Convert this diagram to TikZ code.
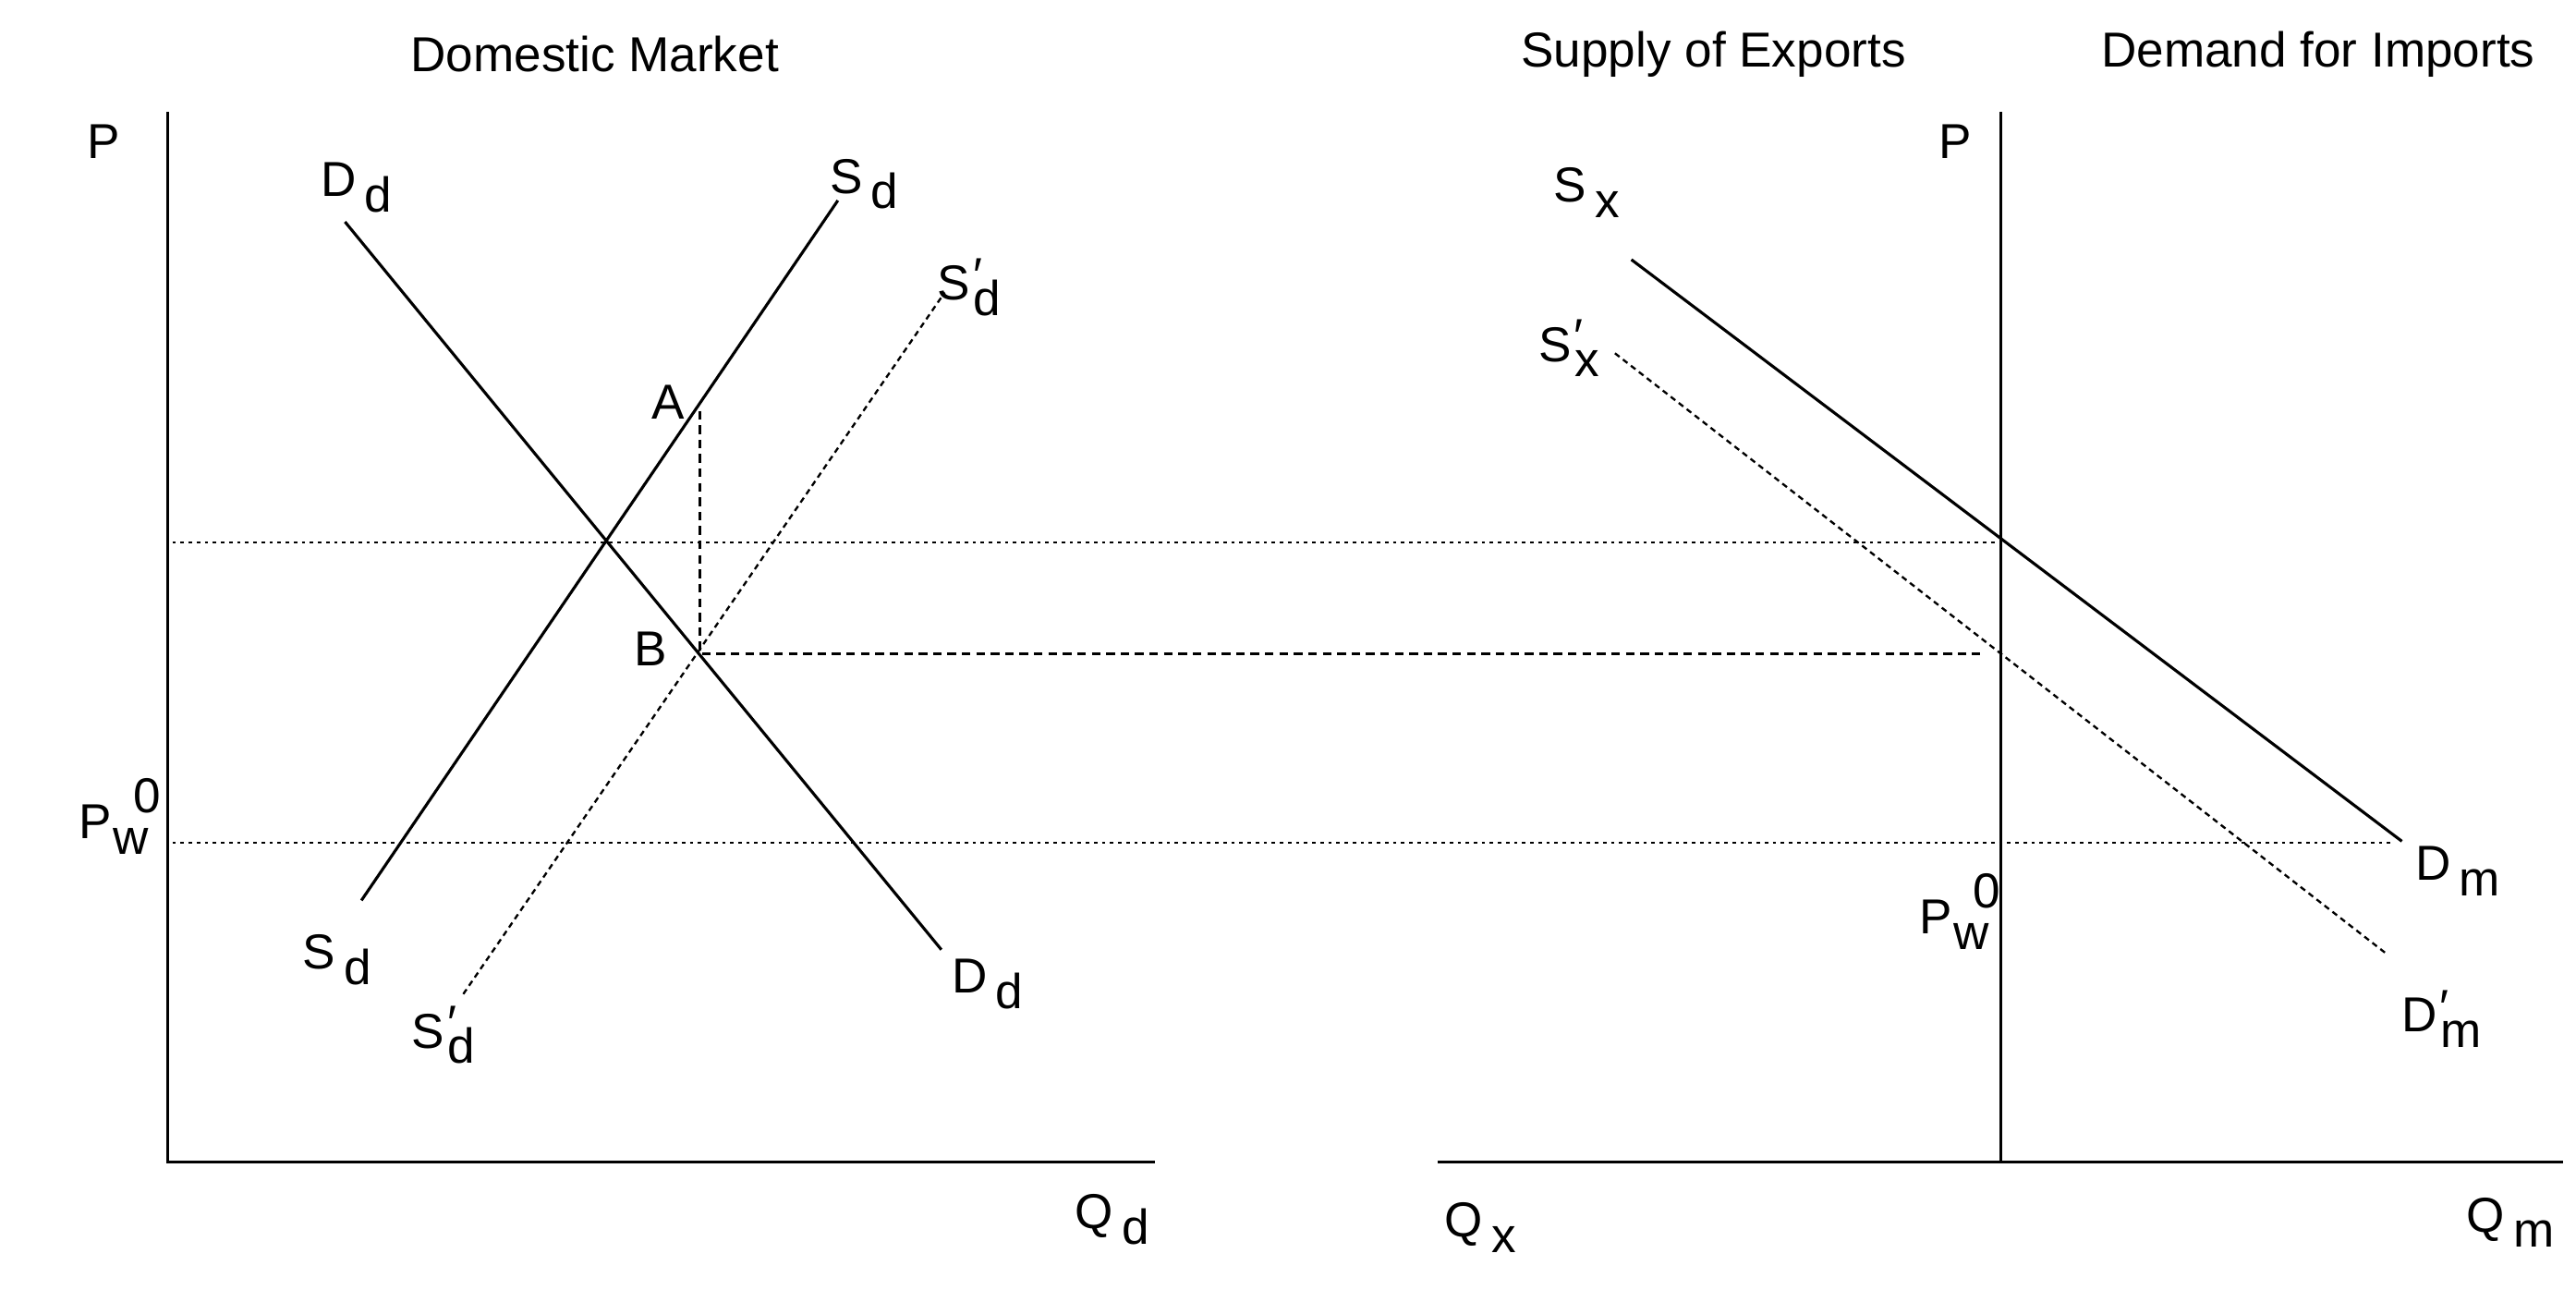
\documentclass[tikz,border=0pt]{standalone}
\usepackage{fontspec}
\setmainfont{Liberation Sans}
\newcommand{\lo}[1]{\raisebox{-0.6ex}{#1}}
\newcommand{\pw}{P\kern0.5pt\raisebox{-0.6ex}{w}\kern-5.5pt\raisebox{1.0ex}{0}}
\begin{document}
\begin{tikzpicture}[x=0.02cm,y=-0.02cm,
  lab/.style={font=\fontsize{17}{20}\selectfont,inner sep=0pt},
  curve/.style={line width=1pt},
  dotl/.style={line width=0.7pt,dash pattern=on 1.2pt off 1.6pt},
  dashd/.style={line width=0.75pt,dash pattern=on 2pt off 1.5pt},
  dashl/.style={line width=1pt,dash pattern=on 3pt off 2pt}]
\useasboundingbox (0,0) rectangle (1568,785);
% axes
\coordinate (lt) at (102,68); \coordinate (lo) at (102,707); \coordinate (lr) at (703,707);
\draw[curve] (lt) -- (lo) -- (lr);
\coordinate (rt) at (1218,68); \coordinate (rb) at (1218,707);
\coordinate (rl) at (875,707); \coordinate (rr) at (1560,707);
\draw[curve] (rt) -- (rb); \draw[curve] (rl) -- (rr);
% curves
\coordinate (dd1) at (210,135); \coordinate (dd2) at (573,578);
\draw[curve] (dd1) -- (dd2);
\coordinate (sd1) at (220,548); \coordinate (sd2) at (510,122);
\draw[curve] (sd1) -- (sd2);
\coordinate (spd1) at (282,605); \coordinate (spd2) at (575,178);
\draw[dashd] (spd1) -- (spd2);
\coordinate (sx1) at (993,158); \coordinate (sx2) at (1462,512);
\draw[curve] (sx1) -- (sx2);
\coordinate (spx1) at (983,215); \coordinate (spx2) at (1452,580);
\draw[dashd] (spx1) -- (spx2);
% guides
\coordinate (A) at (426,250); \coordinate (B) at (426,398); \coordinate (Br) at (1205,398);
\draw[dashl] (A) -- (B) -- (Br);
\coordinate (h1a) at (105,330); \coordinate (h1b) at (1215,330);
\draw[dotl] (h1a) -- (h1b);
\coordinate (h2a) at (105,513); \coordinate (h2b) at (1455,513);
\draw[dotl] (h2a) -- (h2b);
% labels
\node[lab] (t1) at (362,33) {Domestic Market};
\node[lab] (t2) at (1043,33) {Supply of Exports};
\node[lab] (t3) at (1411,33) {Demand for Imports};
\node[lab] (p1) at (63,86) {P};
\node[lab] (p2) at (1190,86) {P};
\node[lab] (l1) at (217,114) {D\kern3pt\lo{d}};
\node[lab] (l2) at (526,112) {S\kern3pt\lo{d}};
\node[lab] (l3) at (590,175) {S\kern1pt\raisebox{0.3ex}{′}\kern-3pt\lo{d}};
\node[lab] (la) at (407,245) {A};
\node[lab] (lb) at (396,395) {B};
\node[lab] (l4) at (73,497) {\pw};
\node[lab] (l5) at (205,584) {S\kern3pt\lo{d}};
\node[lab] (l6) at (270,630) {S\kern1pt\raisebox{0.3ex}{′}\kern-3pt\lo{d}};
\node[lab] (l7) at (601,599) {D\kern3pt\lo{d}};
\node[lab] (l8) at (677,742) {Q\kern3pt\lo{d}};
\node[lab] (l9) at (966,117) {S\kern3pt\lo{x}};
\node[lab] (l10) at (955,212) {S\kern1pt\raisebox{0.3ex}{′}\kern-3pt\lo{x}};
\node[lab] (l11) at (1496,530) {D\kern3pt\lo{m}};
\node[lab] (l12) at (1193,555) {\pw};
\node[lab] (l13) at (1486,620) {D\kern1pt\raisebox{0.3ex}{′}\kern-3pt\lo{m}};
\node[lab] (l14) at (901,747) {Q\kern3pt\lo{x}};
\node[lab] (l15) at (1528,744) {Q\kern3pt\lo{m}};
\end{tikzpicture}
\end{document}
